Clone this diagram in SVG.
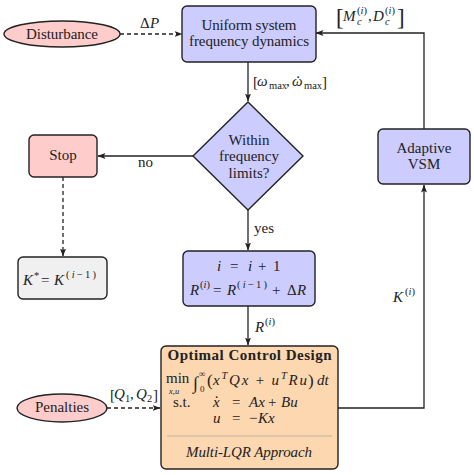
<svg xmlns="http://www.w3.org/2000/svg" width="474" height="475" viewBox="0 0 474 475">
<defs>
<style>
text{font-family:'Liberation Serif','Times New Roman',serif;font-size:15px;fill:#222}
.i{font-style:italic}
.s{font-size:10.5px}
.ss{font-size:9px}
.b{font-weight:bold}
.m{text-anchor:middle}
.box{stroke:#222;stroke-width:1.4}
.blue{fill:#ccccff}
.pink{fill:#ffcccc}
.gray{fill:#f0f0f0}
.peach{fill:#fdd7b0}
.ln{fill:none;stroke:#222;stroke-width:1.3}
.dash{stroke-dasharray:4,3}
.big{font-size:23px}
</style>
<marker id="ah" viewBox="0 0 8 6" refX="7.5" refY="3" markerWidth="8" markerHeight="6" markerUnits="userSpaceOnUse" orient="auto">
<path d="M0,0 L8,3 L0,6 L1.8,3 Z" fill="#222"/>
</marker>
</defs>
<rect width="474" height="475" fill="#ffffff"/>

<g id="connectors">
<path class="ln dash" d="M120,34 L182,34" marker-end="url(#ah)"/>
<path class="ln" d="M248,62 L248,101" marker-end="url(#ah)"/>
<path class="ln" d="M195,156 L98,156" marker-end="url(#ah)"/>
<path class="ln dash" d="M63,177 L63,256" marker-end="url(#ah)"/>
<path class="ln" d="M248,210 L248,250" marker-end="url(#ah)"/>
<path class="ln" d="M248,306 L248,345" marker-end="url(#ah)"/>
<path class="ln dash" d="M107,408 L160,408" marker-end="url(#ah)"/>
<path class="ln" d="M338,408 L424,408 L424,185" marker-end="url(#ah)"/>
<path class="ln" d="M424,129 L424,33 L316,33" marker-end="url(#ah)"/>
<g id="lbl-dp"><text x="140" y="28">Δ</text><text class="i" x="150" y="28">P</text></g>
<g id="lbl-omega">
<text x="253" y="87">[</text>
<text class="i" x="257" y="86">ω</text>
<text class="s" x="269" y="89">max</text>
<text x="286" y="86">,</text>
<text class="i" x="292" y="86">ω</text>
<text class="m" x="298" y="78">.</text>
<text class="s" x="304" y="89">max</text>
<text x="322" y="87">]</text>
</g>
<g id="lbl-md">
<text class="big" x="336" y="25">[</text>
<text class="i" x="343" y="21">M</text>
<text class="s i" x="357" y="25">c</text>
<text class="s" x="357" y="14">(<tspan class="i">i</tspan>)</text>
<text x="368" y="21">,</text>
<text class="i" x="373" y="21">D</text>
<text class="s i" x="385" y="25">c</text>
<text class="s" x="385" y="14">(<tspan class="i">i</tspan>)</text>
<text class="big" x="397" y="25">]</text>
</g>
<text x="138" y="167">no</text>
<text x="254" y="233">yes</text>
<g id="lbl-r"><text class="i" x="255" y="332">R</text><text class="s" x="265" y="325">(<tspan class="i">i</tspan>)</text></g>
<g id="lbl-k"><text class="i" x="393" y="302">K</text><text class="s" x="405" y="295">(<tspan class="i">i</tspan>)</text></g>
<g id="lbl-q">
<text x="110" y="400">[</text>
<text class="i" x="114" y="399">Q</text>
<text class="s" x="125" y="402">1</text>
<text x="130" y="399">,</text>
<text class="i" x="136" y="399">Q</text>
<text class="s" x="147" y="402">2</text>
<text x="153" y="400">]</text>
</g>
</g>

<g id="disturbance">
<ellipse class="box pink" cx="62" cy="34" rx="58" ry="13"/>
<text class="m" x="62" y="39" textLength="72">Disturbance</text>
</g>

<g id="dynamics">
<rect class="box blue" x="182" y="6" width="134" height="56" rx="5"/>
<text class="m" x="249" y="30" textLength="95">Uniform system</text>
<text class="m" x="249" y="46" textLength="120">frequency dynamics</text>
</g>

<g id="decision">
<polygon class="box blue" points="248,102 303,156 248,210 193,156"/>
<text class="m" x="249" y="145">Within</text>
<text class="m" x="249" y="161">frequency</text>
<text class="m" x="249" y="178">limits?</text>
</g>

<g id="stop">
<rect class="box pink" x="29" y="135" width="68" height="42" rx="5"/>
<text class="m" x="63" y="160">Stop</text>
</g>

<g id="kstar">
<rect class="box gray" x="18" y="257" width="89" height="42" rx="5"/>
<text class="i" x="23" y="285">K</text>
<text class="s" x="34" y="279">*</text>
<text x="41" y="285">=</text>
<text class="i" x="54" y="285">K</text>
<text class="s" x="66" y="278" textLength="30">(<tspan class="i">i</tspan>−1)</text>
</g>

<g id="update">
<rect class="box blue" x="183" y="251" width="132" height="55" rx="5"/>
<text class="i" x="217" y="271">i</text>
<text x="230" y="271">=</text>
<text class="i" x="248" y="271">i</text>
<text x="258" y="271">+</text>
<text x="273" y="271">1</text>
<text class="i" x="190" y="295">R</text>
<text class="s" x="200" y="288">(<tspan class="i">i</tspan>)</text>
<text x="213" y="295">=</text>
<text class="i" x="227" y="295">R</text>
<text class="s" x="237" y="288" textLength="30">(<tspan class="i">i</tspan>−1)</text>
<text x="272" y="295">+</text>
<text x="287" y="295">Δ</text>
<text class="i" x="297" y="295">R</text>
</g>

<g id="vsm">
<rect class="box blue" x="378" y="129" width="92" height="55" rx="5"/>
<text class="m" x="424" y="153">Adaptive</text>
<text class="m" x="424" y="169">VSM</text>
</g>

<g id="penalties">
<ellipse class="box pink" cx="62" cy="408" rx="45" ry="14"/>
<text class="m" x="62" y="412">Penalties</text>
</g>

<g id="ocd">
<rect class="box peach" x="161" y="346" width="177" height="123" rx="5"/>
<text class="b m" x="249.5" y="360" textLength="164">Optimal Control Design</text>
<text x="166" y="383">min</text>
<text class="i" x="169" y="394" style="font-size:8.5px">x,u</text>
<text x="193" y="389" style="font-size:18px">∫</text>
<text class="ss" x="200" y="392">0</text>
<text class="ss" x="199" y="377">∞</text>
<text x="207" y="386" style="font-size:17px">(</text>
<text x="213" y="385" textLength="94"><tspan class="i">x</tspan><tspan class="s i" dy="-6">T</tspan><tspan class="i" dy="6">Qx</tspan> + <tspan class="i">u</tspan><tspan class="s i" dy="-6">T</tspan><tspan class="i" dy="6">Ru</tspan></text>
<text x="308" y="386" style="font-size:17px">)</text>
<text class="i" x="317" y="385">dt</text>
<text x="173" y="407">s.t.</text>
<text class="i" x="213" y="407">x</text>
<text class="m" x="216.5" y="398">.</text>
<text x="232" y="407">=</text>
<text class="i" x="249" y="407">Ax</text>
<text x="268" y="407">+</text>
<text class="i" x="281" y="407">Bu</text>
<text class="i" x="213" y="423">u</text>
<text x="232" y="423">=</text>
<text x="249" y="423">−</text>
<text class="i" x="258" y="423">Kx</text>
<line x1="167" y1="436" x2="332" y2="436" stroke="#aaa" stroke-width="0.8"/>
<text class="i m" x="249" y="457" textLength="126">Multi-LQR Approach</text>
</g>
</svg>
